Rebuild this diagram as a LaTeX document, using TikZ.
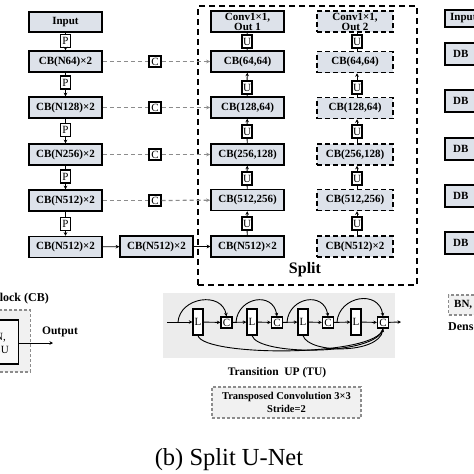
\documentclass[tikz,border=0pt]{standalone}
\usepackage{fontspec}
\setmainfont{Liberation Serif}
\usetikzlibrary{arrows.meta}
\definecolor{boxfill}{RGB}{221,226,234}
\definecolor{panelgray}{RGB}{236,236,236}
\definecolor{lightgray2}{RGB}{241,241,241}
\definecolor{dashgray}{RGB}{140,140,140}
\begin{document}
\begin{tikzpicture}[x=1pt,y=-1pt,
 cbbox/.style={draw=black, line width=1.5pt, fill=boxfill, minimum width=73pt, minimum height=21pt, inner sep=0pt, align=center, font=\fontsize{11}{11}\selectfont\bfseries},
 dbox/.style={cbbox, dash pattern=on 5pt off 3pt, minimum width=76pt},
 pbox/.style={draw=black, line width=1.3pt, fill=white, minimum width=10pt, minimum height=13pt, inner sep=0pt, font=\fontsize{11}{11}\selectfont},
 cbox/.style={pbox, minimum width=12pt, minimum height=11pt},
 lbox/.style={pbox, minimum width=10pt, minimum height=26pt},
 tcbox/.style={pbox, minimum width=11pt, minimum height=11pt},
 arr/.style={-{Stealth[length=3.5pt,width=3.5pt]}, line width=0.9pt},
 gline/.style={draw=dashgray, line width=1.2pt, dash pattern=on 4pt off 3pt},
 garr/.style={gline, -{Stealth[length=4pt,width=3.5pt]}},
 bold11/.style={font=\fontsize{11}{11}\selectfont\bfseries, inner sep=0pt},
]
\useasboundingbox (0,0) rectangle (474,474);
\clip (0,0) rectangle (474,474);

% Split frame
\node[draw, line width=1.8pt, dash pattern=on 6pt off 4pt, minimum width=219pt, minimum height=279pt, inner sep=0pt] (split) at (307.5,145.5) {};
\node[font=\fontsize{16}{16}\selectfont\bfseries, inner sep=0pt] (splitlbl) at (305,270) {Split};

% left column (encoder)
\node[cbbox, minimum height=20pt] (in) at (65.5,22) {Input};
\node[pbox] (p1) at (65.5,41) {P};
\node[cbbox] (l1) at (65.5,61.5) {CB(N64)×2};
\node[pbox] (p2) at (65.5,82.5) {P};
\node[cbbox] (l2) at (65.5,107.5) {CB(N128)×2};
\node[pbox] (p3) at (65.5,130) {P};
\node[cbbox] (l3) at (65.5,154.5) {CB(N256)×2};
\node[pbox] (p4) at (65.5,176.5) {P};
\node[cbbox] (l4) at (65.5,200.5) {CB(N512)×2};
\node[pbox] (p5) at (65.5,224) {P};
\node[cbbox] (l5) at (65.5,247) {CB(N512)×2};
\draw[line width=0.9pt] (in) -- (p1);
\draw[arr] (p1) -- (l1);
\draw[line width=0.9pt] (l1) -- (p2);
\draw[arr] (p2) -- (l2);
\draw[line width=0.9pt] (l2) -- (p3);
\draw[arr] (p3) -- (l3);
\draw[line width=0.9pt] (l3) -- (p4);
\draw[arr] (p4) -- (l4);
\draw[line width=0.9pt] (l4) -- (p5);
\draw[arr] (p5) -- (l5);

% middle bottleneck
\node[cbbox] (m5) at (156.5,246.5) {CB(N512)×2};

% concat boxes
\node[cbox] (c1) at (155,61.5) {C};
\node[cbox] (c2) at (155,107.5) {C};
\node[cbox] (c3) at (155,154.5) {C};
\node[cbox] (c4) at (155,200.5) {C};

% decoder 1
\node[cbbox] (o1) at (247.5,21.5) {Conv1×1,\\[-1pt]Out 1};
\node[pbox] (u1) at (247,41.5) {U};
\node[cbbox] (s1) at (247.5,61.5) {CB(64,64)};
\node[pbox] (u2) at (247,87.5) {U};
\node[cbbox] (s2) at (247.5,107.5) {CB(128,64)};
\node[pbox] (u3) at (247,131.5) {U};
\node[cbbox] (s3) at (247.5,154.5) {CB(256,128)};
\node[pbox] (u4) at (247,178.5) {U};
\node[cbbox] (s4) at (247.5,200) {CB(512,256)};
\node[pbox] (u5) at (247,223.5) {U};
\node[cbbox] (s5) at (247.5,246.5) {CB(N512)×2};
\draw[line width=0.9pt] (s1) -- (u1);
\draw[line width=0.9pt] (u1) -- (o1);
\draw[line width=0.9pt] (s2) -- (u2);
\draw[arr] (u2) -- (s1);
\draw[line width=0.9pt] (s3) -- (u3);
\draw[arr] (u3) -- (s2);
\draw[line width=0.9pt] (s4) -- (u4);
\draw[arr] (u4) -- (s3);
\draw[line width=0.9pt] (s5) -- (u5);
\draw[arr] (u5) -- (s4);

% decoder 2
\node[dbox] (q0) at (355,21.5) {Conv1×1,\\[-1pt]Out 2};
\node[pbox] (v1) at (357,41.5) {U};
\node[dbox] (q1) at (355,62) {CB(64,64)};
\node[pbox] (v2) at (357,87.5) {U};
\node[dbox] (q2) at (355,108) {CB(128,64)};
\node[pbox] (v3) at (357,131.5) {U};
\node[dbox] (q3) at (355,154.5) {CB(256,128)};
\node[pbox] (v4) at (357,178.5) {U};
\node[dbox] (q4) at (355,200) {CB(512,256)};
\node[pbox] (v5) at (357,223.5) {U};
\node[dbox] (q5) at (355,246.5) {CB(N512)×2};
\draw[line width=0.9pt] (q1.north -| v1) -- (v1);
\draw[line width=0.9pt] (v1) -- (q0.south -| v1);
\draw[line width=0.9pt] (q2.north -| v2) -- (v2);
\draw[arr] (v2) -- (q1.south -| v2);
\draw[line width=0.9pt] (q3.north -| v3) -- (v3);
\draw[arr] (v3) -- (q2.south -| v3);
\draw[line width=0.9pt] (q4.north -| v4) -- (v4);
\draw[arr] (v4) -- (q3.south -| v4);
\draw[line width=0.9pt] (q5.north -| v5) -- (v5);
\draw[arr] (v5) -- (q4.south -| v5);

% skip connections
\draw[gline] (l1) -- (c1); \draw[garr] (c1) -- (s1);
\draw[gline] (l2) -- (c2); \draw[garr] (c2) -- (s2);
\draw[gline] (l3) -- (c3); \draw[garr] (c3) -- (s3);
\draw[gline] (l4) -- (c4); \draw[garr] (c4) -- (s4);
\draw[arr] (l5) -- (m5);
\draw[arr] (m5) -- (s5);

% far right column (cut)
\node[cbbox, minimum width=60pt, minimum height=17pt, anchor=west] (rin) at (444,18.5) {};
\node[bold11, anchor=west] (rint) at (450,18.5) {Input};
\node[cbbox, minimum width=60pt, minimum height=22pt, anchor=west] (d1) at (444,54) {};
\node[bold11, anchor=west] (d1t) at (453,54) {DB};
\node[cbbox, minimum width=60pt, minimum height=22pt, anchor=west] (d2) at (444,101) {};
\node[bold11, anchor=west] (d2t) at (453,101) {DB};
\node[cbbox, minimum width=60pt, minimum height=22pt, anchor=west] (d3) at (444,149) {};
\node[bold11, anchor=west] (d3t) at (453,149) {DB};
\node[cbbox, minimum width=60pt, minimum height=22pt, anchor=west] (d4) at (444,196) {};
\node[bold11, anchor=west] (d4t) at (453,196) {DB};
\node[cbbox, minimum width=60pt, minimum height=22pt, anchor=west] (d5) at (444,243) {};
\node[bold11, anchor=west] (d5t) at (453,243) {DB};
\node[draw=dashgray, line width=1.2pt, dash pattern=on 3pt off 2pt, fill=lightgray2, minimum width=40pt, minimum height=20pt, anchor=west, inner sep=0pt] (bnbox) at (448,305) {};
\node[bold11, anchor=west] (bnt) at (454,305) {BN,};
\node[font=\fontsize{12}{12}\selectfont\bfseries, inner sep=0pt, anchor=west] (dense) at (448,327) {Dense};

% bottom-left convolution block (cut)
\node[font=\fontsize{12}{12}\selectfont\bfseries, inner sep=0pt, anchor=east] (cbtitle) at (49,299) {Block (CB)};
\node[draw=dashgray, line width=1.2pt, dash pattern=on 3pt off 2pt, fill=lightgray2, minimum width=45pt, minimum height=62pt, anchor=east, inner sep=0pt] (cbouter) at (31,341) {};
\node[draw=black, line width=1.3pt, fill=white!60!lightgray2, minimum width=35pt, minimum height=44pt, anchor=east, inner sep=0pt] (cbinner) at (19,342) {};
\node[font=\fontsize{11}{11}\selectfont, inner sep=0pt, anchor=east] (cbt1) at (6,338) {BN,};
\node[font=\fontsize{11}{11}\selectfont, inner sep=0pt, anchor=east] (cbt2) at (9,350) {ReLU};
\coordinate (outend) at (53,343);
\draw[arr] (cbinner.east |- outend) -- (outend);
\node[font=\fontsize{11.5}{11.5}\selectfont\bfseries, inner sep=0pt] (outlbl) at (60,332) {Output};

% Transition up panel
\node[fill=panelgray, minimum width=232pt, minimum height=65pt, inner sep=0pt] (tupanel) at (279,325.5) {};
\coordinate (tin) at (167,322);
\coordinate (tout) at (401,322);
\node[lbox] (L1) at (198,322) {L};
\node[tcbox] (C1) at (226.5,322.5) {C};
\node[lbox] (L2) at (252,322) {L};
\node[tcbox] (C2) at (277,322.5) {C};
\node[lbox] (L3) at (303,322) {L};
\node[tcbox] (C3) at (328,322.5) {C};
\node[lbox] (L4) at (356,322) {L};
\node[tcbox] (C4) at (383,322.5) {C};
\draw[arr] (tin) -- (L1);
\draw[arr] (L1) -- (C1);
\draw[arr] (C1) -- (L2);
\draw[arr] (L2) -- (C2);
\draw[arr] (C2) -- (L3);
\draw[arr] (L3) -- (C3);
\draw[arr] (C3) -- (L4);
\draw[arr] (L4) -- (C4);
\draw[arr] (C4) -- (tout);
\coordinate (a1) at (178,322);
\coordinate (a2) at (236,322);
\coordinate (a3) at (287,322);
\coordinate (a4) at (337,322);
\draw[arr] (a1) .. controls (180,297) and (222,291) .. (C1.north);
\draw[arr] (a2) .. controls (238,297) and (273,291) .. (C2.north);
\draw[arr] (a3) .. controls (289,297) and (324,291) .. (C3.north);
\draw[arr] (a4) .. controls (339,296) and (379,289) .. (C4.north);
\draw[line width=0.9pt] (L1.south) .. controls (204,357) and (378,357) .. (C4.south);
\draw[line width=0.9pt] (L2.south) .. controls (258,356) and (378,356) .. (C4.south);
\draw[arr] (L3.south) .. controls (309,354) and (379,354) .. (C4.south);
\node[font=\fontsize{11.5}{11.5}\selectfont\bfseries, inner sep=0pt] (tulbl) at (277,373) {Transition\ \ UP (TU)};
\node[draw=dashgray, line width=1.2pt, dash pattern=on 3pt off 2pt, fill=lightgray2, minimum width=149pt, minimum height=31pt, inner sep=0pt, align=center, font=\fontsize{10.5}{13}\selectfont\bfseries] (tconv) at (286.5,402.5) {Transposed Convolution 3×3\\Stride=2};

% caption
\node[font=\fontsize{24.5}{24.5}\selectfont, inner sep=0pt] (caption) at (229,460) {(b) Split U-Net};
\end{tikzpicture}
\end{document}
